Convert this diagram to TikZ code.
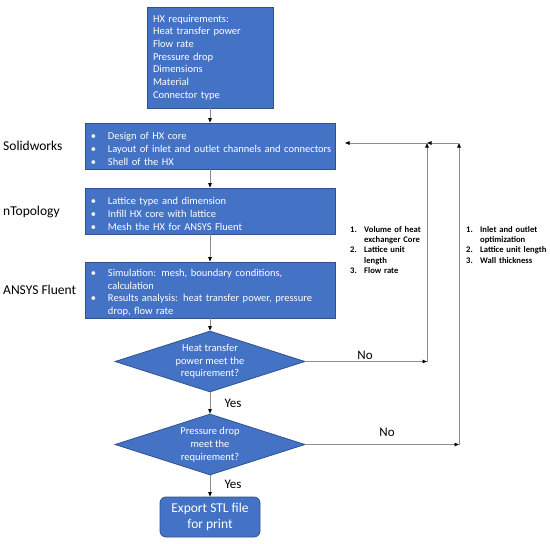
\documentclass[tikz,border=0pt]{standalone}
\usepackage{fontspec}
\setmainfont{Carlito}
\usetikzlibrary{shapes.geometric,arrows.meta,positioning}

\definecolor{boxblue}{RGB}{68,114,196}
\definecolor{boxedge}{RGB}{47,82,143}
\definecolor{linegray}{RGB}{140,140,140}

\newenvironment{dotlist}{\begin{list}{\textbullet}{\setlength\leftmargin{20pt}\setlength\labelwidth{6pt}\setlength\labelsep{12pt}%
  \setlength\itemsep{0pt}\setlength\topsep{0pt}\setlength\partopsep{0pt}\setlength\parsep{0pt}}}{\end{list}}
\newenvironment{numlist}{\begin{list}{}{\setlength\leftmargin{14pt}\setlength\labelwidth{10pt}\setlength\labelsep{4pt}%
  \setlength\itemsep{0pt}\setlength\topsep{0pt}\setlength\partopsep{0pt}\setlength\parsep{0pt}\def\makelabel##1{##1\hfill}}}{\end{list}}

\begin{document}
\begin{tikzpicture}[x=1pt, y=-1pt,
    box/.style={draw=boxedge, line width=0.8pt, fill=boxblue, text=white, inner sep=0pt, font=\fontsize{10.5}{12.7}\selectfont},
    decide/.style={diamond, aspect=3.1, draw=boxedge, line width=0.8pt, fill=boxblue, text=white, inner sep=0pt,
        minimum width=190, minimum height=61, align=center, font=\fontsize{10.5}{12.7}\selectfont},
    flow/.style={draw=linegray, line width=0.8pt, -{Triangle[length=4.5pt,width=3.5pt,color=black]}},
    tool/.style={anchor=west, inner sep=0pt, font=\fontsize{13.5}{16}\selectfont},
    tag/.style={inner sep=0pt, font=\fontsize{13}{15}\selectfont}]
    \useasboundingbox (0,0) rectangle (550,544);

    % --- main column ---
    \node[box, minimum width=126, minimum height=101, text width=114, align=left] (req) at (210,57.5)
        {HX requirements:\\Heat transfer power\\Flow rate\\Pressure drop\\Dimensions\\Material\\Connector type};
    \node[box, minimum width=250, minimum height=46, text width=244] (sw) at (210,146)
        {\begin{dotlist}\item Design of HX core \item Layout of inlet and outlet channels and connectors \item Shell of the HX\end{dotlist}};
    \node[box, minimum width=250, minimum height=46, text width=244] (nt) at (210,211)
        {\begin{dotlist}\item Lattice type and dimension \item Infill HX core with lattice \item Mesh the HX for ANSYS Fluent\end{dotlist}};
    \node[box, minimum width=250, minimum height=56, text width=244] (af) at (210,290)
        {\begin{dotlist}\item Simulation: mesh, boundary conditions,\newline calculation \item Results analysis: heat transfer power, pressure\newline drop, flow rate\end{dotlist}};
    \node[decide] (dHeat) at (210,361.5) {Heat transfer\\power meet the\\requirement?};
    \node[decide] (dPress) at (210,444.5) {Pressure drop\\meet the\\requirement?};
    \node[box, rounded corners=6pt, minimum width=100, minimum height=40, align=center,
        font=\fontsize{13.5}{16.5}\selectfont] (stl) at (210,517) {Export STL file\\for print};

    % --- software labels ---
    \node[tool] (swLabel) at (3,146) {Solidworks};
    \node[tool] (ntLabel) at (3,212) {nTopology};
    \node[tool] (afLabel) at (3,290) {ANSYS Fluent};

    % --- main flow ---
    \draw[flow] (req.south) -- (sw.north);
    \draw[flow] (sw.south) -- (nt.north);
    \draw[flow] (nt.south) -- (af.north);
    \draw[flow] (af.south) -- (dHeat.north);
    \draw[flow] (dHeat.south) -- (dPress.north);
    \draw[flow] (dPress.south) -- (stl.north);
    \node[tag] (yesHeat) at (233,403) {Yes};
    \node[tag] (yesPress) at (233,484) {Yes};

    % --- feedback loops ---
    \coordinate (topA) at (427,143);
    \coordinate (topB) at (459,143);
    \coordinate (backS) at (345,143);
    \draw[flow] (dHeat.east) -- (dHeat.east -| topA);
    \draw[flow] (dHeat.east -| topA) -- (topA);
    \draw[flow] (topA) -- (backS);
    \draw[flow] (dPress.east) -- (dPress.east -| topB);
    \draw[flow] (dPress.east -| topB) -- (topB);
    \draw[flow] (topB) -- (topA);
    \node[tag] (noHeat) at (365,355) {No};
    \node[tag] (noPress) at (387,432) {No};

    % parameters changed in each loop
    \node[anchor=north west, text width=74, inner sep=0pt, font=\bfseries\fontsize{8.6}{10.2}\selectfont] (parA) at (350,222)
        {\begin{numlist}\item[1.] Volume of heat\newline exchanger Core \item[2.] Lattice unit\newline length \item[3.] Flow rate\end{numlist}};
    \node[anchor=north west, text width=84, inner sep=0pt, font=\bfseries\fontsize{8.6}{10.2}\selectfont] (parB) at (466,222)
        {\begin{numlist}\item[1.] Inlet and outlet\newline optimization \item[2.] Lattice unit length \item[3.] Wall thickness\end{numlist}};
\end{tikzpicture}
\end{document}
